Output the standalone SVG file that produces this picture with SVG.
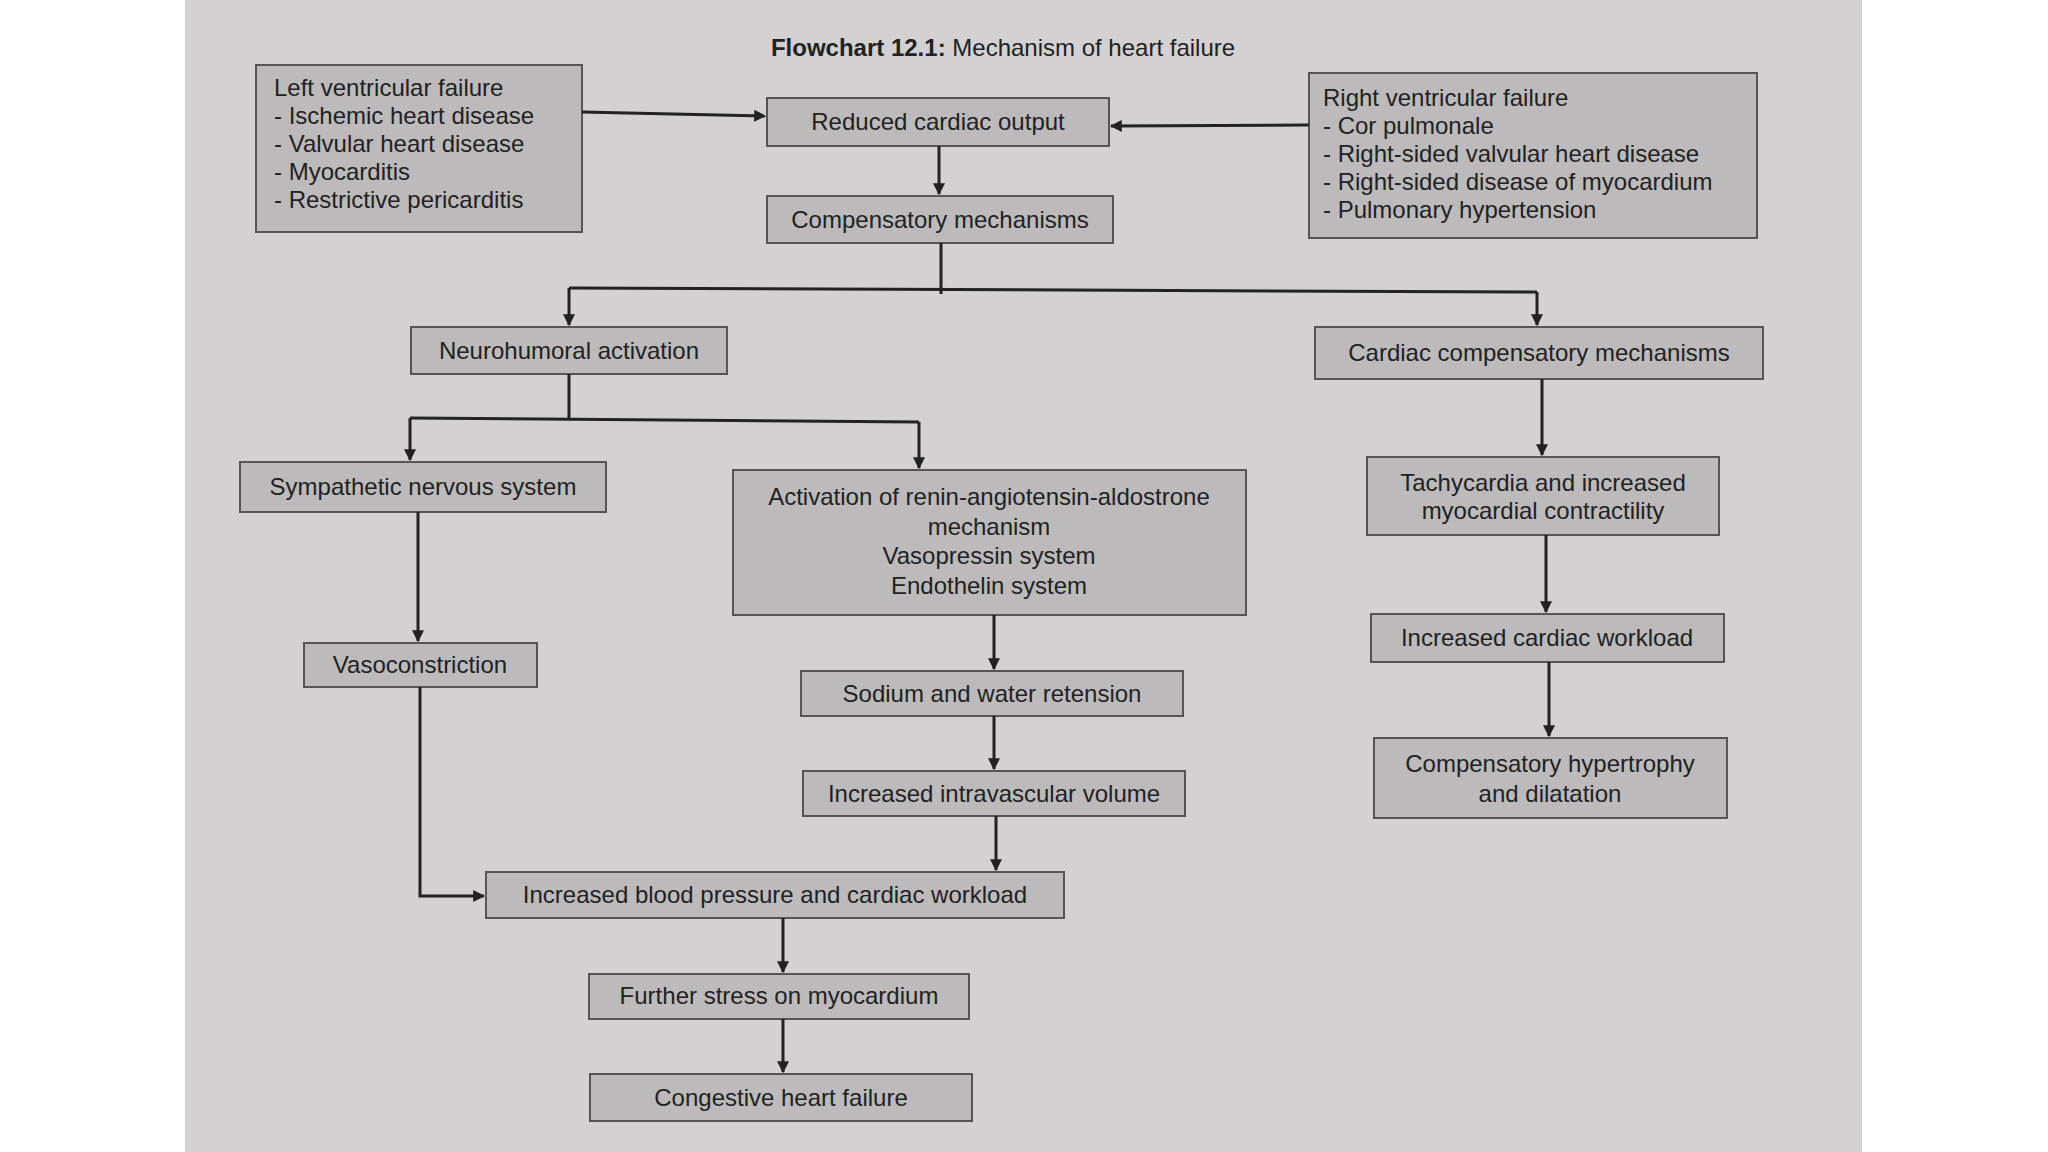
<svg xmlns="http://www.w3.org/2000/svg" width="2048" height="1152" viewBox="0 0 2048 1152">
<style>
.b{fill:#bcbabb;stroke:#555;stroke-width:2}
text{font-family:"Liberation Sans",Arial,sans-serif;font-size:24px;fill:#222}
.c{text-anchor:middle}
.k{fill:none;stroke:#222;stroke-width:3}
</style>
<defs><marker id="a" viewBox="0 0 10 10" refX="9" refY="5" markerWidth="4" markerHeight="4" orient="auto"><path d="M0,0L10,5L0,10z" fill="#222"/></marker></defs>
<rect width="2048" height="1152" fill="#fff"/>
<rect x="185" y="0" width="1677" height="1152" fill="#d3d1d2"/>
<text x="1003" y="56" class="c"><tspan font-weight="bold">Flowchart 12.1:</tspan> Mechanism of heart failure</text>
<g id="left"><rect class="b" x="256" y="65" width="326" height="167"/><text x="274" y="96">Left ventricular failure</text><text x="274" y="124">- Ischemic heart disease</text><text x="274" y="152">- Valvular heart disease</text><text x="274" y="180">- Myocarditis</text><text x="274" y="208">- Restrictive pericarditis</text></g>
<g id="rco"><rect class="b" x="767" y="98" width="342" height="48"/><text x="938" y="130" class="c">Reduced cardiac output</text></g>
<g id="comp"><rect class="b" x="767" y="196" width="346" height="47"/><text x="940" y="228" class="c">Compensatory mechanisms</text></g>
<g id="right"><rect class="b" x="1309" y="73" width="448" height="165"/><text x="1323" y="106">Right ventricular failure</text><text x="1323" y="134">- Cor pulmonale</text><text x="1323" y="162">- Right-sided valvular heart disease</text><text x="1323" y="190">- Right-sided disease of myocardium</text><text x="1323" y="218">- Pulmonary hypertension</text></g>
<g id="neuro"><rect class="b" x="411" y="327" width="316" height="47"/><text x="569" y="359" class="c">Neurohumoral activation</text></g>
<g id="ccm"><rect class="b" x="1315" y="327" width="448" height="52"/><text x="1539" y="361" class="c">Cardiac compensatory mechanisms</text></g>
<g id="sns"><rect class="b" x="240" y="462" width="366" height="50"/><text x="423" y="495" class="c">Sympathetic nervous system</text></g>
<g id="raas"><rect class="b" x="733" y="470" width="513" height="145"/><text x="989" y="505" class="c">Activation of renin-angiotensin-aldostrone</text><text x="989" y="535" class="c">mechanism</text><text x="989" y="564" class="c">Vasopressin system</text><text x="989" y="594" class="c">Endothelin system</text></g>
<g id="tachy"><rect class="b" x="1367" y="457" width="352" height="78"/><text x="1543" y="491" class="c">Tachycardia and increased</text><text x="1543" y="519" class="c">myocardial contractility</text></g>
<g id="vaso"><rect class="b" x="304" y="643" width="233" height="44"/><text x="420" y="673" class="c">Vasoconstriction</text></g>
<g id="sod"><rect class="b" x="801" y="671" width="382" height="45"/><text x="992" y="702" class="c">Sodium and water retension</text></g>
<g id="icw"><rect class="b" x="1371" y="614" width="353" height="48"/><text x="1547" y="646" class="c">Increased cardiac workload</text></g>
<g id="ivv"><rect class="b" x="803" y="771" width="382" height="45"/><text x="994" y="802" class="c">Increased intravascular volume</text></g>
<g id="hyp"><rect class="b" x="1374" y="738" width="353" height="80"/><text x="1550" y="772" class="c">Compensatory hypertrophy</text><text x="1550" y="802" class="c">and dilatation</text></g>
<g id="bp"><rect class="b" x="486" y="872" width="578" height="46"/><text x="775" y="903" class="c">Increased blood pressure and cardiac workload</text></g>
<g id="fs"><rect class="b" x="589" y="974" width="380" height="45"/><text x="779" y="1004" class="c">Further stress on myocardium</text></g>
<g id="chf"><rect class="b" x="590" y="1074" width="382" height="47"/><text x="781" y="1106" class="c">Congestive heart failure</text></g>
<g id="connectors">
<path class="k" marker-end="url(#a)" d="M582,112L765,116"/>
<path class="k" marker-end="url(#a)" d="M1309,125L1111,126"/>
<path class="k" marker-end="url(#a)" d="M939,146V194"/>
<path class="k" d="M941,243V294M569,288L1537,292"/>
<path class="k" marker-end="url(#a)" d="M569,288V325"/>
<path class="k" marker-end="url(#a)" d="M1537,292V325"/>
<path class="k" d="M569,374V418M410,418L919,422"/>
<path class="k" marker-end="url(#a)" d="M410,418V460"/>
<path class="k" marker-end="url(#a)" d="M919,422V468"/>
<path class="k" marker-end="url(#a)" d="M418,512V641"/>
<path class="k" marker-end="url(#a)" d="M420,687V896H484"/>
<path class="k" marker-end="url(#a)" d="M994,615V669"/>
<path class="k" marker-end="url(#a)" d="M994,716V769"/>
<path class="k" marker-end="url(#a)" d="M996,816V870"/>
<path class="k" marker-end="url(#a)" d="M783,918V972"/>
<path class="k" marker-end="url(#a)" d="M783,1019V1072"/>
<path class="k" marker-end="url(#a)" d="M1542,379V455"/>
<path class="k" marker-end="url(#a)" d="M1546,535V612"/>
<path class="k" marker-end="url(#a)" d="M1549,662V736"/>
</g>
</svg>
